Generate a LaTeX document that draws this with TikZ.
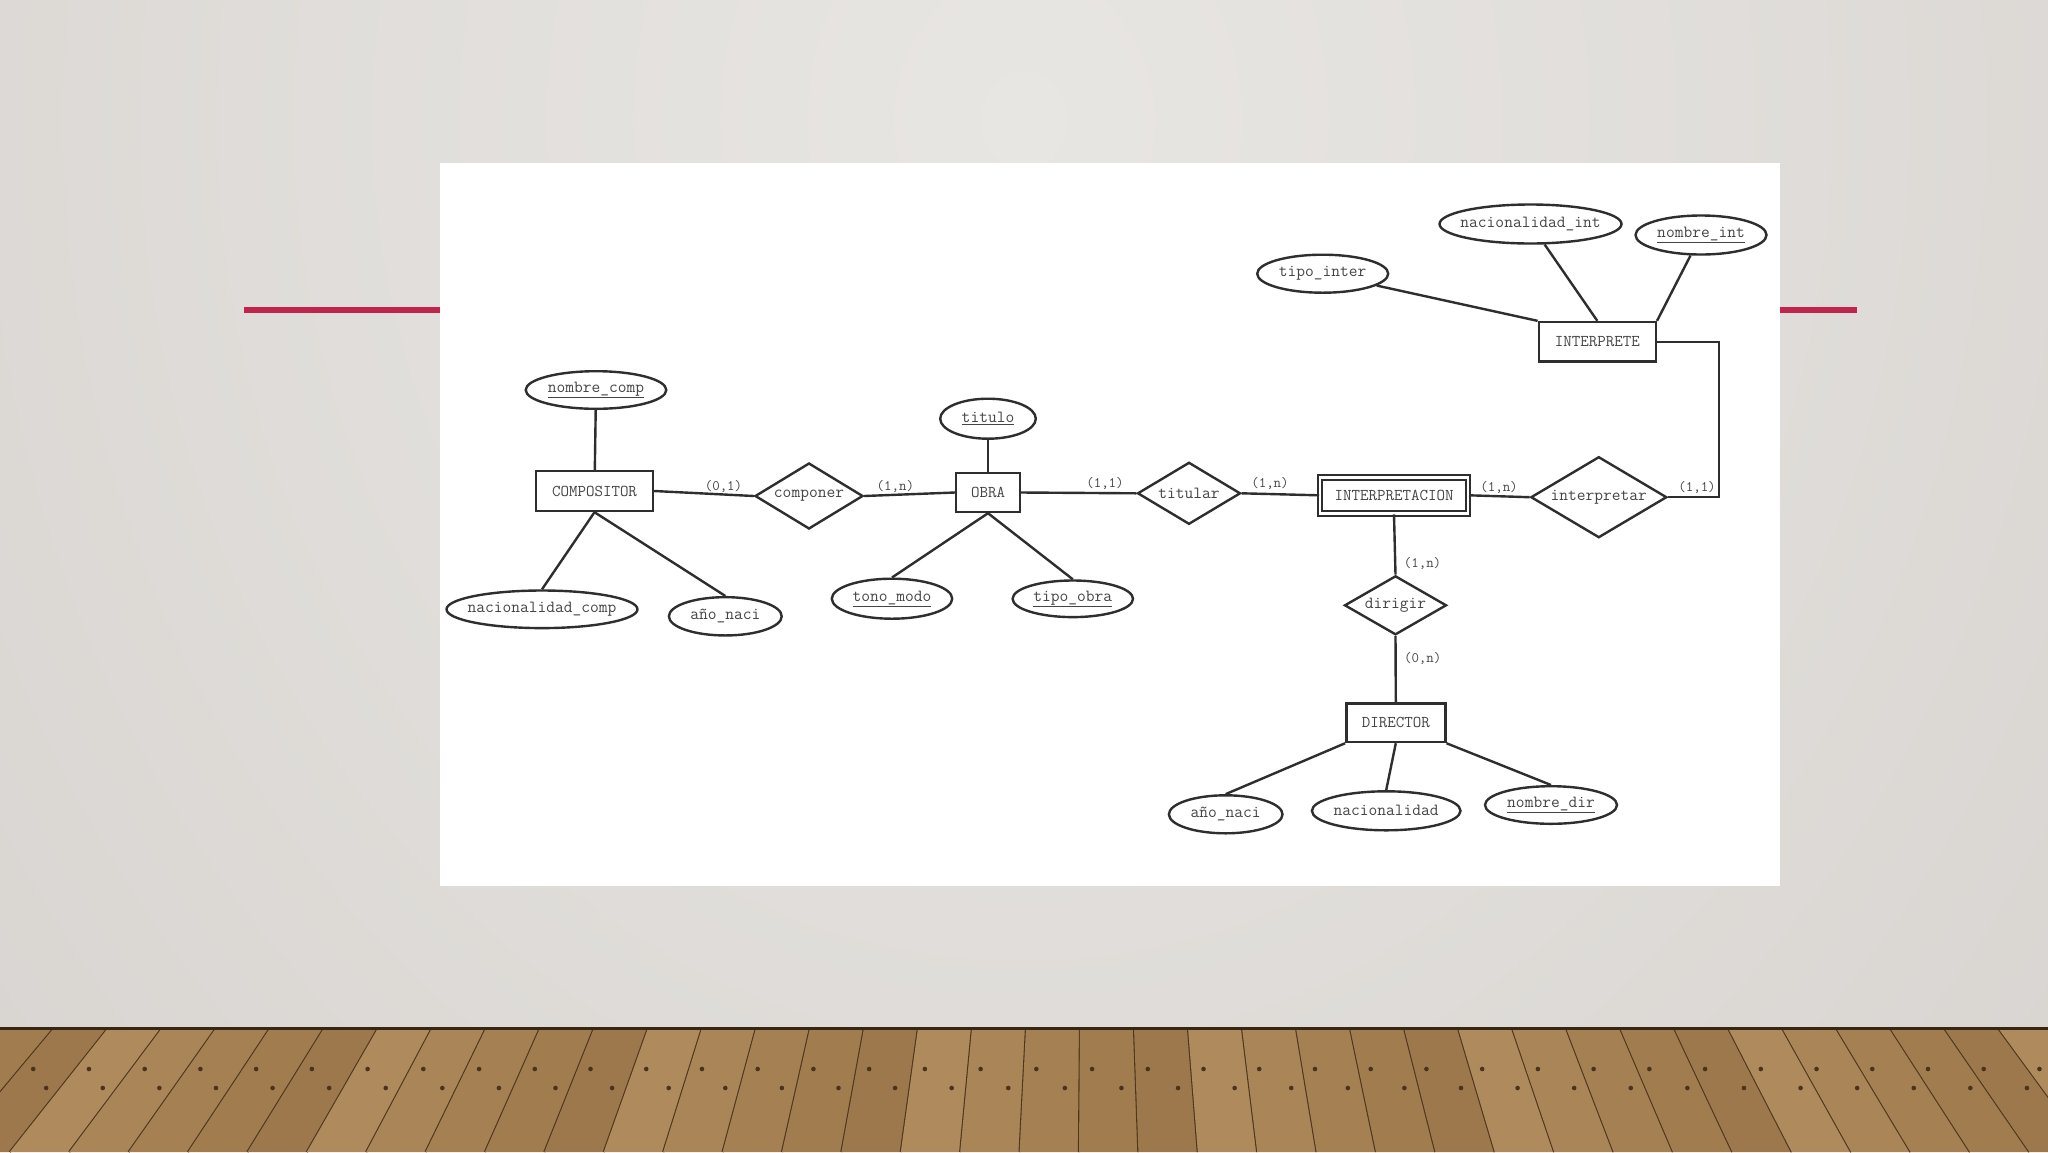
\documentclass[tikz,border=0pt]{standalone}
\usepackage{fontspec}
\usetikzlibrary{shapes.geometric}
\definecolor{ink}{HTML}{2E2E2E}
\definecolor{txt}{HTML}{454545}
\definecolor{accent}{HTML}{C0244C}
\definecolor{bglight}{HTML}{E8E6E3}
\definecolor{bgside}{HTML}{D1CDC9}
\definecolor{wood0}{HTML}{A98558}
\definecolor{wood1}{HTML}{A07C4F}
\definecolor{wood2}{HTML}{AE8A5C}
\definecolor{wood3}{HTML}{A48052}
\definecolor{wood4}{HTML}{9C784C}
\definecolor{woodline}{HTML}{4E361E}
\definecolor{nail}{HTML}{4A321C}
\newcommand{\zt}[1]{\makebox[0pt][c]{#1}}
\begin{document}
\begin{tikzpicture}[x=1pt,y=-1pt,
  base/.style={draw=ink, line width=2.4pt, text=txt, inner sep=0pt},
  entity/.style={base, rectangle, font=\ttfamily\fontsize{16.5}{18}\selectfont},
  weak/.style={entity, double=white, double distance=2.6pt, line width=2pt},
  attr/.style={base, ellipse, font=\ttfamily\fontsize{17}{19}\selectfont},
  rel/.style={base, diamond, font=\ttfamily\fontsize{17}{19}\selectfont},
  card/.style={text=txt, font=\ttfamily\fontsize{14.5}{16}\selectfont, inner sep=0pt},
  conn/.style={draw=ink, line width=2.4pt}]
\useasboundingbox (0,0) rectangle (2048,1152);
% background wall
\begin{scope}
  \clip (0,0) rectangle (2048,1030);
  \shade[inner color=bglight, outer color=bgside] (1024,120) ellipse [x radius=2000, y radius=2300];
\end{scope}
% floor
\begin{scope}
  \clip (0,1028) rectangle (2048,1152);
  \fill[wood1] (0,1028) rectangle (2048,1152);
  \foreach \i in {0,...,38}{
    \pgfmathsetmacro\xa{\i*54}
    \pgfmathsetmacro\xb{\xa+54}
    \pgfmathsetmacro\xc{\xb+0.1*(\xb-1090)}
    \pgfmathsetmacro\xd{\xa+0.1*(\xa-1090)}
    \pgfmathtruncatemacro\k{mod(\i*3+1,5)}
    \fill[wood\k] (\xa,1028) -- (\xb,1028) -- (\xc,1152) -- (\xd,1152) -- cycle;
    \draw[woodline, line width=2.2pt] (\xb,1028) -- (\xc,1152);
    \pgfmathsetmacro\na{\xa+12+0.032*(\xa+12-1090)}
    \pgfmathsetmacro\nb{\xa+40+0.048*(\xa+40-1090)}
    \fill[nail] (\na,1069) circle (2.3);
    \fill[nail] (\nb,1088) circle (2.3);
  }
\end{scope}
\draw[woodline!70!black, line width=3pt] (0,1028) -- (2048,1028);
% red accent lines
\draw[accent, line width=6pt] (244,310) -- (440,310);
\draw[accent, line width=6pt] (1780,310) -- (1857,310);
% white panel
\fill[white] (440,163) rectangle (1780,886);

% entities
\node[entity, minimum width=117pt, minimum height=40pt] (comp) at (594.5,491) {\zt{COMPOSITOR}};
\node[entity, minimum width=64pt, minimum height=39pt] (obra) at (988,492.5) {\zt{OBRA}};
\node[weak, minimum width=148pt, minimum height=36pt] (interpretacion) at (1394,495.3) {\zt{INTERPRETACION}};
\node[entity, minimum width=117pt, minimum height=39.5pt] (interp) at (1597.3,341.8) {\zt{INTERPRETE}};
\node[entity, minimum width=99pt, minimum height=38.5pt] (director) at (1395.8,722.8) {\zt{DIRECTOR}};

% relationships
\node[rel, minimum width=108pt, minimum height=66pt] (componer) at (809,496) {\zt{componer}};
\node[rel, minimum width=103pt, minimum height=62pt] (titular) at (1189,493.3) {\zt{titular}};
\node[rel, minimum width=136pt, minimum height=81pt] (interpretar) at (1598.8,497.2) {\zt{interpretar}};
\node[rel, minimum width=102pt, minimum height=59pt] (dirigir) at (1395.5,605.3) {\zt{dirigir}};

% attributes
\node[attr, minimum width=140.6pt, minimum height=37.6pt] (nc) at (596,390) {\zt{\underline{nombre\_comp}}};
\node[attr, minimum width=191pt, minimum height=37.6pt] (nacc) at (542,609.3) {\zt{nacionalidad\_comp}};
\node[attr, minimum width=112.8pt, minimum height=38.3pt] (anc) at (725.3,616.3) {\zt{año\_naci}};
\node[attr, minimum width=95.6pt, minimum height=40pt] (titulo) at (988,418.7) {\zt{\underline{titulo}}};
\node[attr, minimum width=120.4pt, minimum height=40pt] (tono) at (892,598.7) {\zt{\underline{tono\_modo}}};
\node[attr, minimum width=120.4pt, minimum height=36.6pt] (tipo) at (1072.8,598.8) {\zt{\underline{tipo\_obra}}};
\node[attr, minimum width=131pt, minimum height=38pt] (tipoi) at (1322.7,273.7) {\zt{tipo\_inter}};
\node[attr, minimum width=182pt, minimum height=39pt] (nacint) at (1530.5,224) {\zt{nacionalidad\_int}};
\node[attr, minimum width=131pt, minimum height=39pt] (nint) at (1701,235) {\zt{\underline{nombre\_int}}};
\node[attr, minimum width=113.6pt, minimum height=38pt] (and) at (1225.7,814.3) {\zt{año\_naci}};
\node[attr, minimum width=148.6pt, minimum height=39pt] (nacd) at (1386.2,810.8) {\zt{nacionalidad}};
\node[attr, minimum width=132pt, minimum height=37.6pt] (nd) at (1551,805) {\zt{\underline{nombre\_dir}}};

% connectors
\draw[conn] (comp) -- (nc);
\draw[conn] (comp.south) -- (nacc.north);
\draw[conn] (comp.south) -- (anc.north);
\draw[conn] (obra) -- (titulo);
\draw[conn] (obra.south) -- (tono.north);
\draw[conn] (obra.south) -- (tipo.north);
\draw[conn] (comp.east) -- (componer.west);
\draw[conn] (componer.east) -- (obra.west);
\draw[conn] (obra.east) -- (titular.west);
\draw[conn] (titular.east) -- (interpretacion.west);
\draw[conn] (interpretacion.east) -- (interpretar.west);
\coordinate (bend) at (1719,497.2);
\draw[conn] (interpretar.east) -- (bend) -- (bend |- interp.east) -- (interp.east);
\draw[conn] (tipoi) -- (interp.north west);
\draw[conn] (nacint) -- (interp.north);
\draw[conn] (nint) -- (interp.north east);
\draw[conn] (interpretacion.south) -- (dirigir.north);
\draw[conn] (dirigir.south) -- (director.north);
\draw[conn] (director.south west) -- (and.north);
\draw[conn] (director.south) -- (nacd.north);
\draw[conn] (director.south east) -- (nd.north);

% cardinalities
\node[card] (k1) at (723.5,486) {(0,1)};
\node[card] (k2) at (895.4,486) {(1,n)};
\node[card] (k3) at (1105,483.5) {(1,1)};
\node[card] (k4) at (1270,483) {(1,n)};
\node[card] (k5) at (1499,487.5) {(1,n)};
\node[card] (k6) at (1697,487.7) {(1,1)};
\node[card] (k7) at (1422.5,563) {(1,n)};
\node[card] (k8) at (1422.7,658.3) {(0,n)};
\end{tikzpicture}
\end{document}
